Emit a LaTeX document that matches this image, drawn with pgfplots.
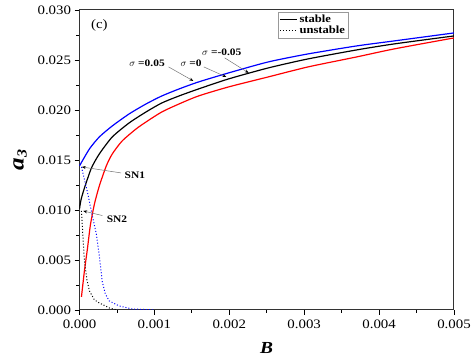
\documentclass[border=0pt]{standalone}
\usepackage{pgfplots}
\pgfplotsset{compat=1.18}
\usepackage{fontspec}
\setmainfont{Liberation Serif}[FakeStretch=1.15]
\usetikzlibrary{arrows.meta}
\begin{document}
\begin{tikzpicture}
\begin{axis}[
  scale only axis, width=377pt, height=302pt,
  xmin=0, xmax=0.005, ymin=0, ymax=0.030,
  xtick={0,0.001,0.002,0.003,0.004,0.005},
  ytick={0,0.005,0.010,0.015,0.020,0.025,0.030},
  minor x tick num=1, minor y tick num=1,
  tick align=outside, tick pos=left,
  major tick length=5pt, minor tick length=3pt,
  scaled ticks=false,
  /pgf/number format/.cd, fixed, fixed zerofill, precision=3, assume math mode=true,
  /pgfplots/.cd,
  tick label style={font=\fontsize{13}{15}\selectfont},
  xticklabel style={yshift=-2pt},
  axis line style={line width=1pt, black!80},
  every tick/.style={black, line width=0.8pt},
  xlabel={\fontsize{17}{20}\selectfont\bfseries\itshape B},
  ylabel={\fontsize{22}{24}\selectfont\bfseries\itshape a\textsubscript{\fontsize{14}{14}\selectfont 3}},
  xlabel style={yshift=-6pt},
  ylabel style={yshift=4pt},
  legend style={at={(axis cs:0.00312,0.0298)}, anchor=north, font=\fontsize{11}{12}\selectfont\bfseries,
    draw=black!40, inner sep=1pt, row sep=-2pt, legend cell align=left},
  clip=true,
]
% stable sigma=0.05 (blue)
\addplot[blue, line width=1.2pt, smooth, tension=0.4, forget plot] coordinates {
(0,0.0144)(0.000133,0.0161)(0.000265,0.0173)(0.000438,0.0184)(0.000663,0.0196)(0.000889,0.0206)
(0.0011,0.0214)(0.00133,0.0221)(0.00159,0.0228)(0.00199,0.0237)(0.00252,0.0248)(0.00305,0.0256)
(0.0037,0.0264)(0.0042,0.0269)(0.005,0.0277)};
% stable sigma=0 (black)
\addplot[black, line width=1.2pt, smooth, tension=0.4] coordinates {
(0,0.0101)(0.00002,0.0110)(0.00005,0.0118)(0.00008,0.0125)(0.00016,0.0142)(0.000265,0.0156)
(0.000438,0.0173)(0.000663,0.0187)(0.000889,0.0198)(0.0011,0.0207)(0.00133,0.0214)(0.00159,0.0221)
(0.00199,0.0231)(0.00252,0.0242)(0.00305,0.0251)(0.0037,0.0260)(0.0042,0.0266)(0.005,0.0274)};
\addlegendentry{stable}
% stable sigma=-0.05 (red)
\addplot[red, line width=1.2pt, smooth, tension=0.4, forget plot] coordinates {
(0.0000265,0.0013)(0.000066,0.0039)(0.000106,0.0061)(0.000146,0.0085)(0.0002,0.0106)(0.000265,0.0124)
(0.000358,0.0144)(0.000438,0.0156)(0.00057,0.0169)(0.000756,0.0181)(0.000889,0.0188)(0.0011,0.0198)
(0.00133,0.0206)(0.00159,0.0214)(0.00199,0.0223)(0.00252,0.0233)(0.00305,0.0243)(0.0037,0.0253)
(0.0042,0.0261)(0.005,0.0272)};
% unstable sigma=0 (black dotted)
\addplot[black, dotted, line width=1pt] coordinates {
(0.0000265,0.0099)(0.000045,0.0075)(0.0000663,0.0049)(0.0001,0.0030)(0.000133,0.0019)(0.0002,0.0010)
(0.000265,0.0007)(0.000398,0.0002)(0.0005,0.0000)};
\addlegendentry{unstable}
% unstable sigma=0.05 (blue dotted)
\addplot[blue, dotted, line width=1pt, forget plot] coordinates {
(0.0000265,0.0143)(0.000106,0.0118)(0.000172,0.0094)(0.000225,0.0076)(0.000265,0.0054)(0.000305,0.0028)
(0.000345,0.0016)(0.000398,0.0009)(0.00053,0.0004)(0.0007,0.0001)(0.001,0.0000)};
% annotations
\node[font=\fontsize{13}{15}\selectfont] at (axis cs:0.000265,0.0285) {(c)};
\node[font=\fontsize{10}{12}\selectfont\bfseries] at (axis cs:0.000902,0.0247) {$\sigma$ =0.05};
\node[font=\fontsize{10}{12}\selectfont\bfseries] at (axis cs:0.00149,0.0247) {$\sigma$ =0};
\node[font=\fontsize{10}{12}\selectfont\bfseries] at (axis cs:0.00190,0.0258) {$\sigma$ =-0.05};
\node[font=\fontsize{10}{12}\selectfont\bfseries] at (axis cs:0.00074,0.0135) {SN1};
\node[font=\fontsize{10}{12}\selectfont\bfseries] at (axis cs:0.00050,0.0091) {SN2};
\draw[black!55, line width=0.5pt, -{Stealth[black, length=4pt, width=3pt]}] (axis cs:0.00119,0.0243) -- (axis cs:0.00152,0.0229);
\draw[black!55, line width=0.5pt, -{Stealth[black, length=4pt, width=3pt]}] (axis cs:0.00166,0.0243) -- (axis cs:0.00196,0.0233);
\draw[black!55, line width=0.5pt, -{Stealth[black, length=4pt, width=3pt]}] (axis cs:0.00194,0.0252) -- (axis cs:0.00226,0.0237);
\draw[black!55, line width=0.5pt, -{Stealth[black, length=4pt, width=3pt]}] (axis cs:0.000557,0.0137) -- (axis cs:0.00003,0.0143);
\draw[black!55, line width=0.5pt, -{Stealth[black, length=4pt, width=3pt]}] (axis cs:0.000305,0.00944) -- (axis cs:0.00005,0.0099);
\end{axis}
\path ([xshift=-80pt,yshift=-54pt]current axis.south west) rectangle ([xshift=17pt,yshift=10pt]current axis.north east);
\end{tikzpicture}
\end{document}
